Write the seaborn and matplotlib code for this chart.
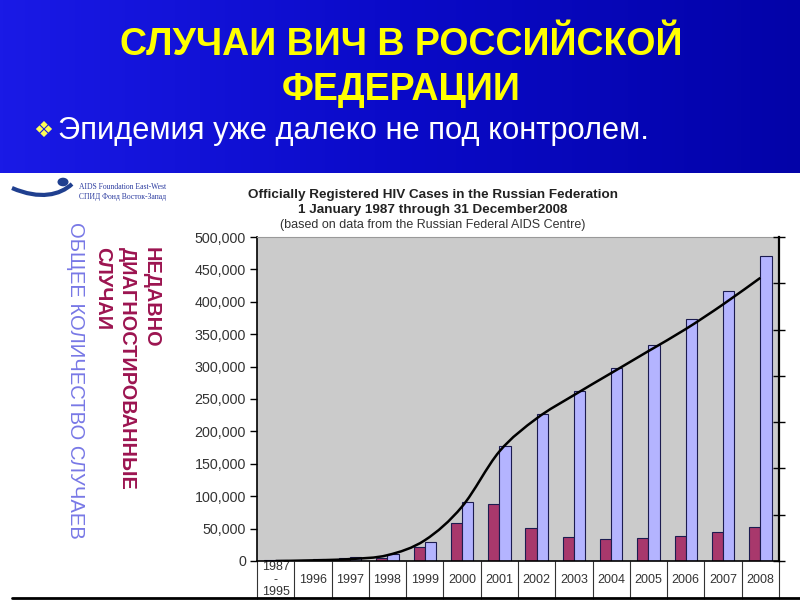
import numpy as np
import pandas as pd
import seaborn as sns
import matplotlib.pyplot as plt
from matplotlib.path import Path
from matplotlib.patches import PathPatch, Circle
from matplotlib.lines import Line2D
from matplotlib.colors import LinearSegmentedColormap

# Data
years = ['1987\n-\n1995', '1996', '1997', '1998', '1999', '2000', '2001',
         '2002', '2003', '2004', '2005', '2006', '2007', '2008']
new_cases = [1000, 1500, 4300, 5000, 21500, 59000, 87500,
             50400, 36500, 34000, 35500, 39300, 44500, 52500]
total_cases = [1100, 2600, 6000, 11000, 30000, 90500, 177500,
               227000, 263000, 298000, 333000, 373500, 416500, 471000]
trend = [0, 1000, 3000, 9000, 32000, 84000, 169000,
         220000, 256000, 290000, 324000, 358000, 396000, 437000]
yticks = list(range(0, 500001, 50000))

sns.set_theme(style='white')
plt.rcParams['font.family'] = ['Liberation Sans', 'DejaVu Sans']

W, H = 800, 600
def fx(x):
    return x / W
def fy(y):
    return 1 - y / H

fig = plt.figure(figsize=(8, 6), dpi=100)
fig.patch.set_facecolor('white')

# blue slide header with gradient
hdr = fig.add_axes([0, fy(173), 1, 173 / H])
grad = np.linspace(0, 1, 256).reshape(1, -1)
cmap = LinearSegmentedColormap.from_list('hdr', ['#1a1ae6', '#0a0ac8', '#0303a8'])
hdr.imshow(grad, aspect='auto', cmap=cmap, extent=[0, 1, 0, 1])
hdr.axis('off')

fig.text(fx(401), fy(45), 'СЛУЧАИ ВИЧ В РОССИЙСКОЙ', ha='center', va='center',
         fontsize=27, weight='bold', color='#ffff00')
fig.text(fx(401), fy(90), 'ФЕДЕРАЦИИ', ha='center', va='center',
         fontsize=27, weight='bold', color='#ffff00')
fig.text(fx(33), fy(131), '❖', ha='left', va='center', fontsize=16,
         color='#ffff55', family=['DejaVu Sans'])
fig.text(fx(58), fy(131), 'Эпидемия уже далеко не под контролем.', ha='left',
         va='center', fontsize=22.2, color='white')

# logo in the top left corner
swoosh = Path([(fx(12), fy(188)), (fx(40), fy(200)), (fx(60), fy(195)), (fx(72), fy(184))],
              [Path.MOVETO, Path.CURVE4, Path.CURVE4, Path.CURVE4])
fig.add_artist(PathPatch(swoosh, fill=False, ec='#1f3f8f', lw=3, transform=fig.transFigure))
fig.add_artist(Circle((fx(63), fy(182)), 0.006, color='#1f3f8f', transform=fig.transFigure))
fig.text(fx(79), fy(187), 'AIDS Foundation East-West', fontsize=5.5, color='#2b3b9f',
         family='Liberation Serif', va='center')
fig.text(fx(79), fy(197), 'СПИД Фонд Восток-Запад', fontsize=5.5, color='#2b3b9f',
         family='Liberation Serif', va='center')

# chart titles
fig.text(fx(433), fy(195), 'Officially Registered HIV Cases in the Russian Federation',
         ha='center', va='center', fontsize=9.7, weight='bold', color='#222222')
fig.text(fx(433), fy(210), '1 January 1987 through 31 December2008',
         ha='center', va='center', fontsize=9.7, weight='bold', color='#222222')
fig.text(fx(433), fy(225), '(based on data from the Russian Federal AIDS Centre)',
         ha='center', va='center', fontsize=9, color='#333333')

# rotated labels on the left
fig.text(fx(161), fy(247), 'НЕДАВНО\nДИАГНОСТИРОВАННЫЕ\nСЛУЧАИ', rotation=-90,
         ha='right', va='top', multialignment='left', fontsize=14.3,
         weight='bold', color='#9c1450', linespacing=1.35)
fig.text(fx(75), fy(222), 'ОБЩЕЕ КОЛИЧЕСТВО СЛУЧАЕВ', rotation=-90,
         ha='center', va='top', fontsize=14.6, color='#7878e6')

# main chart
ax = fig.add_axes([fx(257), 39 / H, 522 / W, 324 / H])
df = pd.DataFrame({
    'year': years * 2,
    'value': new_cases + total_cases,
    'series': ['new'] * len(years) + ['total'] * len(years),
})
sns.barplot(data=df, x='year', y='value', hue='series', order=years,
            palette=['#a8386c', '#b4b4ff'], width=0.6, saturation=1,
            edgecolor='#1c1c50', linewidth=0.8, ax=ax, legend=False)
ax.set_facecolor('#cbcbcb')

# smoothed total line (Excel style)
pts = np.column_stack([np.arange(len(trend)), trend]).astype(float)
verts = [tuple(pts[0])]
codes = [Path.MOVETO]
n = len(pts)
for i in range(n - 1):
    p0 = pts[max(i - 1, 0)]
    p1 = pts[i]
    p2 = pts[i + 1]
    p3 = pts[min(i + 2, n - 1)]
    c1 = p1 + (p2 - p0) / 6
    c2 = p2 - (p3 - p1) / 6
    verts += [tuple(c1), tuple(c2), tuple(p2)]
    codes += [Path.CURVE4] * 3
ax.add_patch(PathPatch(Path(verts, codes), fill=False, ec='black', lw=1.8,
                       transform=ax.transData, zorder=5))

ax.set_xlim(-0.5, len(years) - 0.5)
ax.set_ylim(0, 500000)
ax.set_yticks(yticks)
ax.set_yticklabels([f'{v:,}' for v in yticks])
ax.set_xlabel('')
ax.set_ylabel('')
ax.tick_params(axis='y', direction='out', length=5, width=1, color='black',
               labelsize=10.3, labelcolor='#333333', pad=3, left=True)
ax.tick_params(axis='x', which='major', length=0, pad=13.5, labelsize=9,
               labelcolor='#333333')
ax.set_xticks(np.arange(-0.5, len(years), 1), minor=True)
ax.tick_params(axis='x', which='minor', direction='out', length=27, width=0.8,
               color='#333333', bottom=True)
for lbl in ax.get_xticklabels():
    lbl.set_va('center')
    lbl.set_linespacing(1.05)
for s in ['left', 'bottom']:
    ax.spines[s].set_color('black')
    ax.spines[s].set_linewidth(1.2)
ax.spines['top'].set_color('#999999')
ax.spines['top'].set_linewidth(0.8)
ax.spines['right'].set_visible(False)

# secondary axis on the right (labels not shown on the slide)
ax2 = ax.twinx()
ax2.set_ylim(0, 7)
ax2.set_yticks(range(8))
ax2.tick_params(axis='y', direction='inout', length=8, width=1, color='black',
                labelright=False, right=True)
ax2.grid(False)
for s in ['left', 'top', 'bottom']:
    ax2.spines[s].set_visible(False)
ax2.spines['right'].set_color('black')
ax2.spines['right'].set_linewidth(1.6)

# bottom border of the table
fig.add_artist(Line2D([fx(12), 1], [fy(598), fy(598)], color='black', lw=2,
                      transform=fig.transFigure))

plt.savefig('out.png', dpi=100)
plt.close()
